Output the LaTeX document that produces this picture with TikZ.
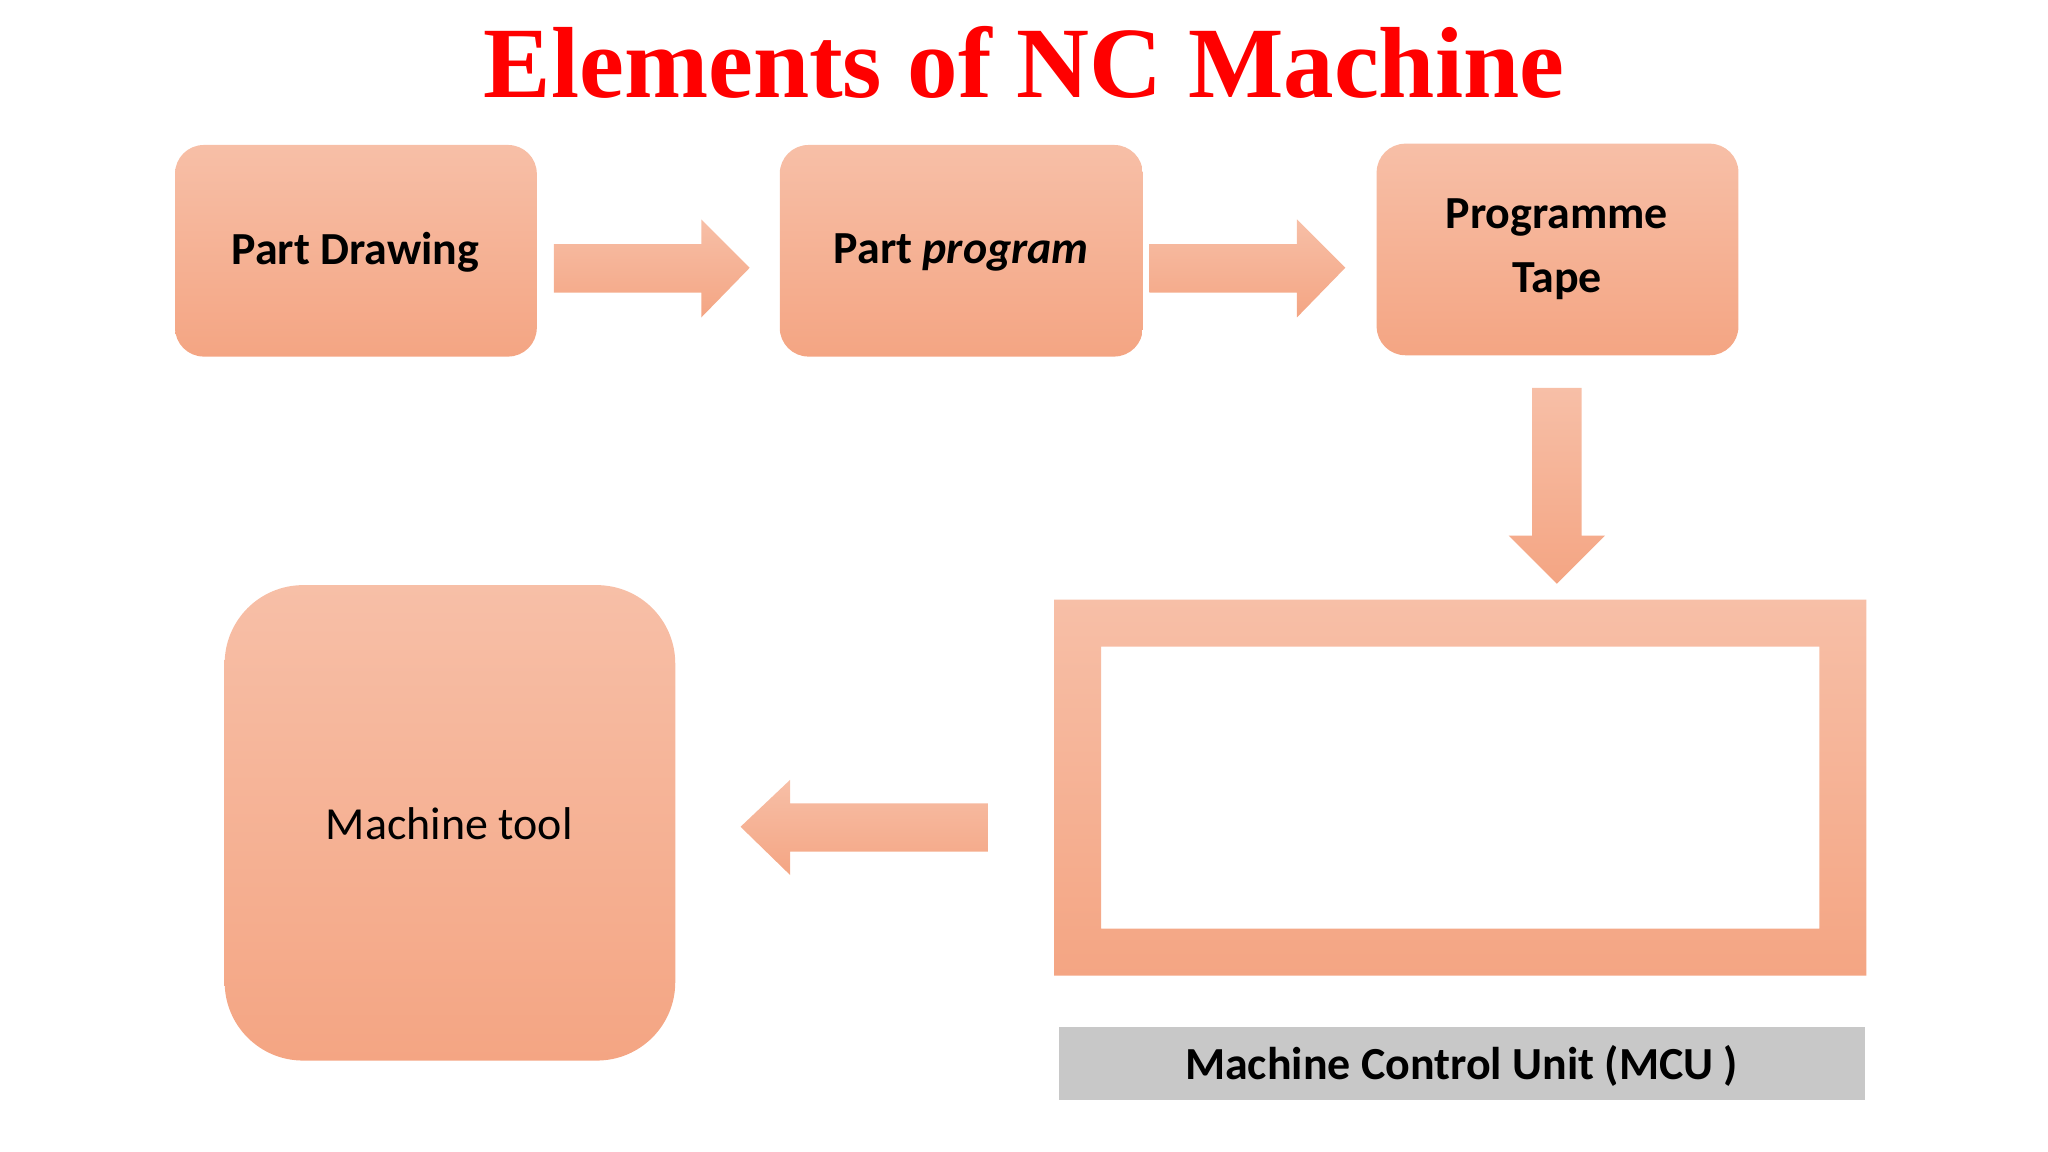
\documentclass[tikz,border=0pt]{standalone}
\usepackage{fontspec}
\setmainfont{Liberation Serif}
\newfontfamily\carl{Carlito}
\begin{document}
\begin{tikzpicture}[x=0.01cm,y=-0.01cm,
  sal/.style={top color=salt,bottom color=salb,draw=none},
  box/.style={sal,rounded corners=0.22cm}]
\definecolor{salt}{HTML}{F7BFA7}
\definecolor{salb}{HTML}{F4A583}
\useasboundingbox (0,0) rectangle (1568,882);
\node[font=\bfseries\fontsize{22}{26}\selectfont,text=red] (title) at (784,48) {Elements of NC Machine};
\shade[box] (134,111) rectangle (411,273);
\node[font=\carl\fontsize{10}{12}\selectfont\bfseries] (b1) at (272,193) {Part Drawing};
\shade[box] (597,111) rectangle (875,273);
\node[font=\carl\fontsize{10}{12}\selectfont\bfseries] (b2) at (736,193) {Part \textit{program}};
\shade[box] (1054,110) rectangle (1331,272);
\node[font=\carl\fontsize{10}{12}\selectfont\bfseries,align=center] (b3) at (1192,191) {Programme\\[2pt]Tape};
\shade[box,rounded corners=0.6cm] (172,448) rectangle (517,812);
\node[font=\carl\fontsize{10}{12}\selectfont] (mt) at (344,631) {Machine tool};
% arrows
\shade[sal] (424,187) -- (537,187) -- (537,168) -- (574,205) -- (537,243) -- (537,224) -- (424,224) -- cycle;
\shade[sal] (880,187) -- (993,187) -- (993,168) -- (1030,205) -- (993,243) -- (993,224) -- (880,224) -- cycle;
\shade[sal] (1173,297) -- (1211,297) -- (1211,410) -- (1229,410) -- (1192,447) -- (1155,410) -- (1173,410) -- cycle;
\shade[sal] (757,615) -- (605,615) -- (605,597) -- (567,633) -- (605,670) -- (605,652) -- (757,652) -- cycle;
% MCU frame
\shade[sal,even odd rule] (807,459) rectangle (1429,747) (843,495) rectangle (1393,711);
\fill[fill={rgb,255:red,200;green,200;blue,200}] (811,786) rectangle (1428,842);
\node[font=\carl\fontsize{10}{12}\selectfont\bfseries] (mcu) at (1119,816) {Machine Control Unit (MCU )};
\end{tikzpicture}
\end{document}
